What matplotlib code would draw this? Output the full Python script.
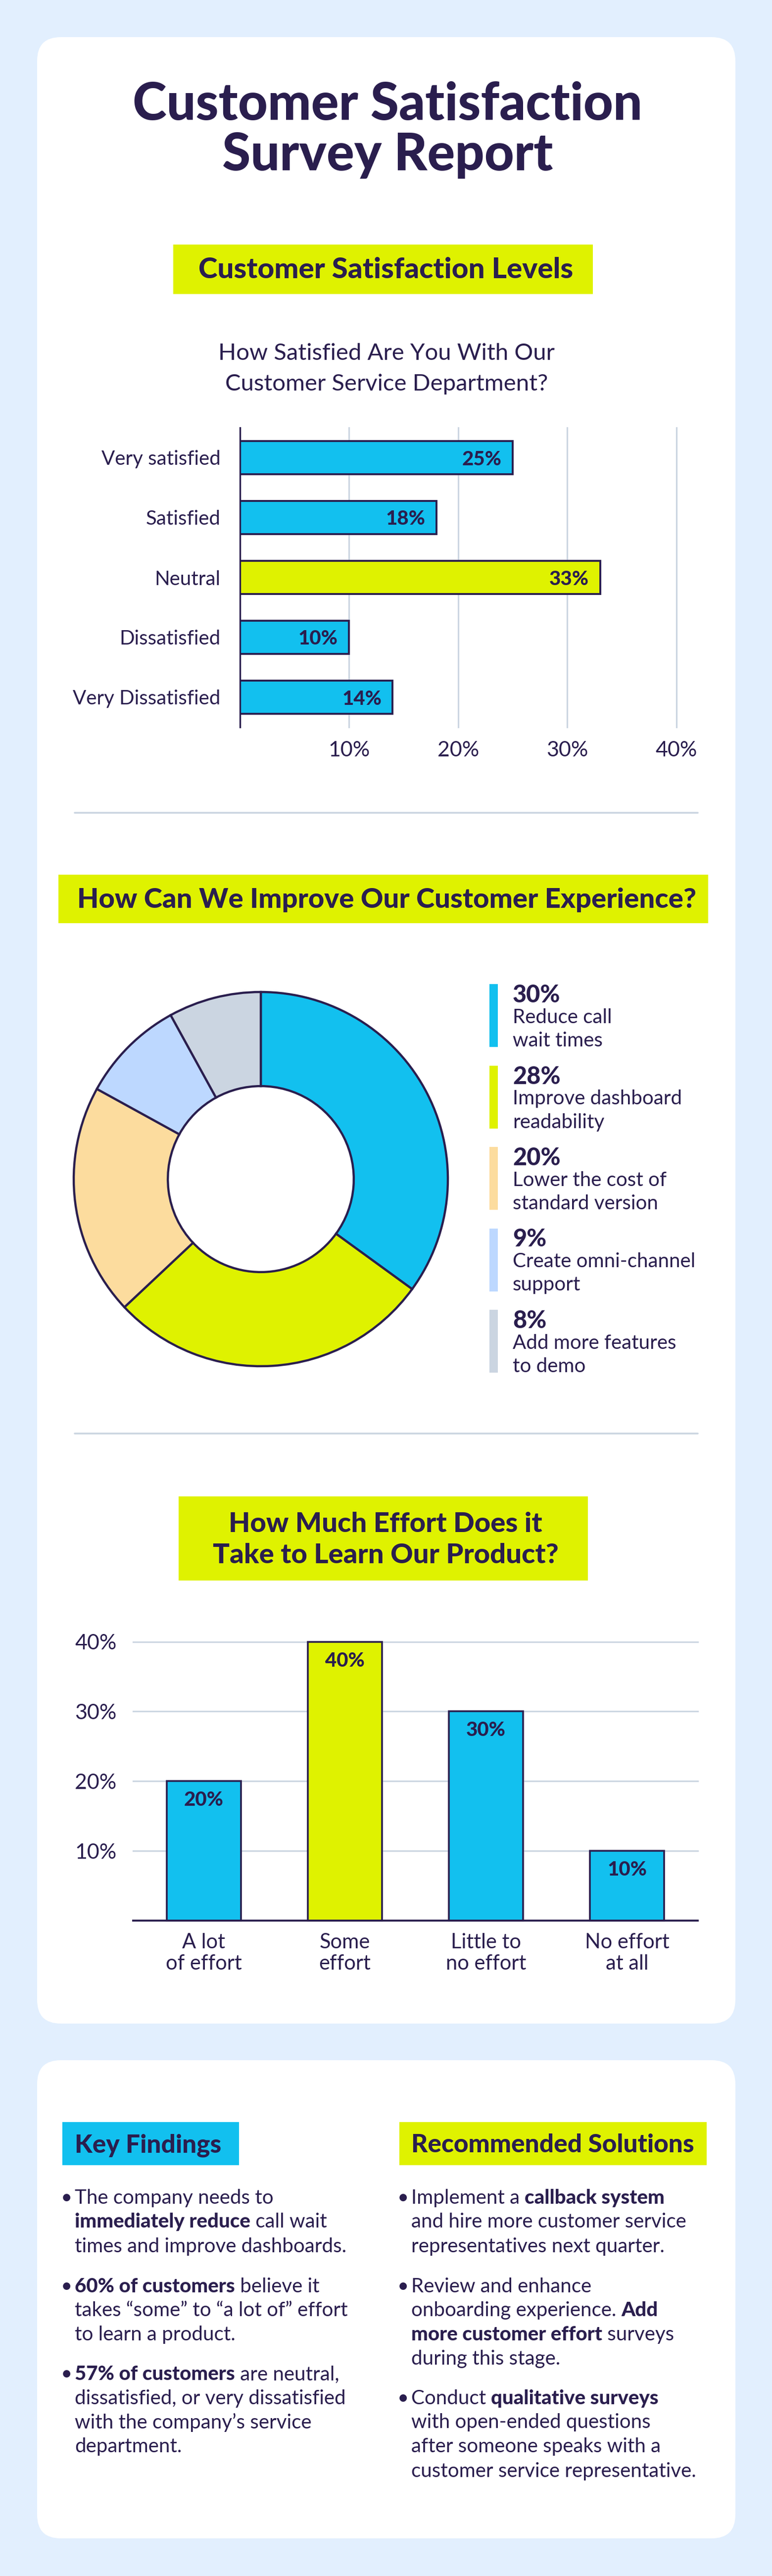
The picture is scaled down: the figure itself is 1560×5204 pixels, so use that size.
import matplotlib
matplotlib.use('Agg')
import matplotlib.pyplot as plt
from matplotlib.patches import FancyBboxPatch, Rectangle

plt.rcParams['font.family'] = ['Lato', 'DejaVu Sans']

W, H = 1560, 5204

# colours
BG = '#E2EFFE'
DARK = '#2A1E4E'
BLUE = '#12C0EF'
LIME = '#DFF200'
PEACH = '#FCDC9E'
SKY = '#BDD8FF'
SLATE = '#CBD5E1'
HEAVY = 900

# satisfaction levels
sat_labels = ['Very satisfied', 'Satisfied', 'Neutral', 'Dissatisfied', 'Very Dissatisfied']
sat_values = [25, 18, 33, 10, 14]
sat_colors = [BLUE, BLUE, LIME, BLUE, BLUE]
sat_ticks = [10, 20, 30, 40]

# improvements (slices are drawn 35/28/20/9/8 in the picture, the legend says 30%)
imp_values = [35, 28, 20, 9, 8]
imp_pct = ['30%', '28%', '20%', '9%', '8%']
imp_text = [['Reduce call', 'wait times'],
            ['Improve dashboard', 'readability'],
            ['Lower the cost of', 'standard version'],
            ['Create omni-channel', 'support'],
            ['Add more features', 'to demo']]
imp_colors = [BLUE, LIME, PEACH, SKY, SLATE]

# effort
eff_labels = ['A lot\nof effort', 'Some\neffort', 'Little to\nno effort', 'No effort\nat all']
eff_values = [20, 40, 30, 10]
eff_colors = [BLUE, LIME, BLUE, BLUE]
eff_ticks = [10, 20, 30, 40]

# findings: every line is a list of (text, bold) runs
findings = [
    [[('The company needs to', False)],
     [('immediately reduce', True), (' call wait', False)],
     [('times and improve dashboards.', False)]],
    [[('60% of customers', True), (' believe it', False)],
     [('takes “some” to “a lot of” effort', False)],
     [('to learn a product.', False)]],
    [[('57% of customers', True), (' are neutral,', False)],
     [('dissatisfied, or very dissatisfied', False)],
     [('with the company’s service', False)],
     [('department.', False)]],
]
solutions = [
    [[('Implement a ', False), ('callback system', True)],
     [('and hire more customer service', False)],
     [('representatives next quarter.', False)]],
    [[('Review and enhance', False)],
     [('onboarding experience. ', False), ('Add', True)],
     [('more customer effort', True), (' surveys', False)],
     [('during this stage.', False)]],
    [[('Conduct ', False), ('qualitative surveys', True)],
     [('with open-ended questions', False)],
     [('after someone speaks with a', False)],
     [('customer service representative.', False)]],
]


def pixel_axes(x, y, w, h):
    return fig.add_axes([x / W, 1 - (y + h) / H, w / W, h / H])


fig = plt.figure(figsize=(W / 100, H / 100), dpi=100, facecolor=BG)

# page layer in pixel coordinates
page = pixel_axes(0, 0, W, H)
page.set_xlim(0, W)
page.set_ylim(H, 0)
page.axis('off')


def card(x0, y0, x1, y1):
    page.add_patch(FancyBboxPatch((x0, y0), x1 - x0, y1 - y0, boxstyle='round,pad=0,rounding_size=48',
                                  fc='white', ec='none'))


def box(x0, y0, x1, y1, color):
    page.add_patch(Rectangle((x0, y0), x1 - x0, y1 - y0, fc=color, ec='none'))


def divider(y):
    page.plot([151, 1410], [y, y], color=SLATE, lw=2.6, solid_capstyle='round')


card(75, 75, 1486, 4088)
card(75, 4162, 1486, 5128)

# title
page.text(783, 242, 'Customer Satisfaction', ha='center', va='baseline', fontsize=75, weight=HEAVY, color=DARK)
page.text(783, 344, 'Survey Report', ha='center', va='baseline', fontsize=75, weight=HEAVY, color=DARK)

# chart 1 header
box(350, 494, 1198, 594, LIME)
page.text(780, 562, 'Customer Satisfaction Levels', ha='center', va='baseline', fontsize=42, weight=HEAVY, color=DARK)
page.text(781, 727, 'How Satisfied Are You With Our', ha='center', va='baseline', fontsize=34, color=DARK)
page.text(781, 789, 'Customer Service Department?', ha='center', va='baseline', fontsize=34, color=DARK)

# chart 1
ax1 = pixel_axes(484.6, 864, 882.4, 605)
ax1.patch.set_alpha(0)
ax1.barh(range(len(sat_values)), sat_values, height=0.56, color=sat_colors, edgecolor=DARK, linewidth=2.8)
ax1.set_xlim(0, 40)
ax1.set_ylim(4.5, -0.5)
ax1.set_yticks(range(len(sat_labels)))
ax1.set_yticklabels(sat_labels, fontsize=29, color=DARK)
ax1.set_xticks(sat_ticks)
ax1.set_xticklabels([f'{t}%' for t in sat_ticks], fontsize=31, color=DARK)
ax1.tick_params(axis='both', length=0)
ax1.tick_params(axis='y', pad=28)
ax1.tick_params(axis='x', pad=20)
ax1.grid(axis='x', color=SLATE, linewidth=2.2)
ax1.set_axisbelow(True)
for line in ax1.get_xgridlines():
    line.set_clip_on(False)
for side in ['top', 'right', 'bottom']:
    ax1.spines[side].set_visible(False)
ax1.spines['left'].set_color(DARK)
ax1.spines['left'].set_linewidth(2.4)
for i, v in enumerate(sat_values):
    ax1.annotate(f'{v}%', (v, i), xytext=(-16, 0), textcoords='offset points', ha='right', va='center_baseline',
                 fontsize=29, weight=HEAVY, color=DARK)

divider(1642)

# chart 2 header
box(118, 1767, 1431, 1865, LIME)
page.text(781, 1834, 'How Can We Improve Our Customer Experience?', ha='center', va='baseline', fontsize=40.5,
          weight=HEAVY, color=DARK)

# donut
ax2 = pixel_axes(149, 2004, 756, 756)
ax2.pie(imp_values, colors=imp_colors, startangle=90, counterclock=False, radius=1,
        wedgeprops=dict(width=0.503, edgecolor=DARK, linewidth=3.2))
ax2.set_xlim(-1, 1)
ax2.set_ylim(-1, 1)
for w in ax2.patches:
    w.set_clip_on(False)

# donut legend
for i, (pct, lines, col) in enumerate(zip(imp_pct, imp_text, imp_colors)):
    y = 1988 + 164.5 * i
    box(989, y, 1006, y + 127, col)
    page.text(1036, y + 37, pct, ha='left', va='baseline', fontsize=35, weight=HEAVY, color=DARK)
    page.text(1036, y + 79, lines[0], ha='left', va='baseline', fontsize=29, color=DARK)
    page.text(1036, y + 126, lines[1], ha='left', va='baseline', fontsize=29, color=DARK)

divider(2896)

# chart 3 header
box(361, 3023, 1188, 3193, LIME)
page.text(779, 3095, 'How Much Effort Does it', ha='center', va='baseline', fontsize=40.5, weight=HEAVY, color=DARK)
page.text(779, 3158, 'Take to Learn Our Product?', ha='center', va='baseline', fontsize=40.5, weight=HEAVY, color=DARK)

# chart 3
ax3 = pixel_axes(269, 3316.5, 1141, 563.5)
ax3.patch.set_alpha(0)
ax3.bar(range(len(eff_values)), eff_values, width=0.525, color=eff_colors, edgecolor=DARK, linewidth=2.6)
ax3.set_xlim(-0.5, 3.5)
ax3.set_ylim(0, 40)
ax3.set_xticks(range(len(eff_labels)))
ax3.set_xticklabels(eff_labels, fontsize=30, color=DARK, linespacing=1.15)
ax3.set_yticks(eff_ticks)
ax3.set_yticklabels([f'{t}%' for t in eff_ticks], fontsize=31, color=DARK)
ax3.tick_params(axis='both', length=0)
ax3.tick_params(axis='x', pad=18)
ax3.tick_params(axis='y', pad=24)
ax3.grid(axis='y', color=SLATE, linewidth=2.2)
ax3.set_axisbelow(True)
for line in ax3.get_ygridlines():
    line.set_clip_on(False)
for bar in ax3.patches:
    bar.set_clip_on(False)
for side in ['top', 'right', 'left']:
    ax3.spines[side].set_visible(False)
ax3.spines['bottom'].set_color(DARK)
ax3.spines['bottom'].set_linewidth(2.8)
for i, v in enumerate(eff_values):
    ax3.annotate(f'{v}%', (i, v), xytext=(0, -36), textcoords='offset points', ha='center', va='baseline',
                 fontsize=29, weight=HEAVY, color=DARK)

# bottom panel
box(126, 4287, 483, 4374, BLUE)
box(807, 4287, 1428, 4374, LIME)
page.text(151, 4348, 'Key Findings', ha='left', va='baseline', fontsize=37, weight=HEAVY, color=DARK)
page.text(831, 4348, 'Recommended Solutions', ha='left', va='baseline', fontsize=37, weight=HEAVY, color=DARK)

renderer = fig.canvas.get_renderer()


def run_width(s, bold):
    # the x marks keep leading and trailing spaces in the measure
    weight = HEAVY if bold else 'normal'
    t1 = page.text(0, 0, 'x' + s + 'x', fontsize=29, weight=weight)
    t2 = page.text(0, 0, 'xx', fontsize=29, weight=weight)
    w = t1.get_window_extent(renderer).width - t2.get_window_extent(renderer).width
    t1.remove()
    t2.remove()
    return w


def draw_bullets(items, x_bullet, x_text, baselines):
    for item, ys in zip(items, baselines):
        page.text(x_bullet, ys[0], '•', ha='center', va='baseline', fontsize=29, color=DARK)
        for runs, y in zip(item, ys):
            x = x_text
            for s, bold in runs:
                page.text(x, y, s, ha='left', va='baseline', fontsize=29, weight=HEAVY if bold else 'normal',
                          color=DARK)
                x += run_width(s, bold)


draw_bullets(findings, 134, 151, [[4452, 4500, 4550], [4631, 4679, 4728], [4808, 4857, 4906, 4954]])
draw_bullets(solutions, 814, 831, [[4452, 4500, 4550], [4631, 4679, 4728, 4777], [4857, 4905, 4954, 5004]])

fig.savefig('out.png', dpi=100, facecolor=BG)
